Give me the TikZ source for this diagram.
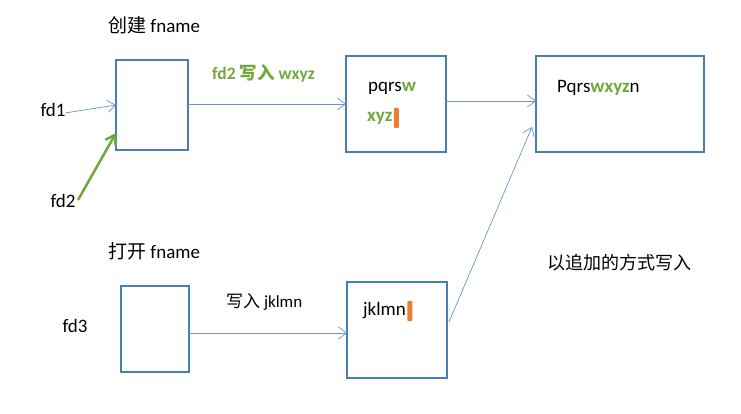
\documentclass[tikz,border=0pt]{standalone}
\usepackage{fontspec}
\setmainfont{Carlito}
\newfontfamily\cjk{Noto Sans CJK SC}
\usetikzlibrary{arrows.meta}
\definecolor{bbox}{RGB}{74,126,187}
\definecolor{barr}{RGB}{100,150,205}
\definecolor{gr}{RGB}{112,168,60}
\definecolor{org}{RGB}{237,125,49}
\tikzset{
 box/.style={draw=bbox,line width=1.6pt},
 conn/.style={draw=barr,line width=0.7pt,-{Straight Barb[length=8pt,width=12pt]}},
 txt/.style={font=\fontsize{19}{22}\selectfont,inner sep=0pt},
 cur/.style={fill=org,rounded corners=0.8pt,minimum width=5pt,minimum height=20pt,inner sep=0pt,anchor=west}
}
\begin{document}
\begin{tikzpicture}[x=1pt,y=-1pt]
\useasboundingbox (0,0) rectangle (741,414);
\draw[box] (116,60) rectangle (188,150);
\draw[box] (346,56) rectangle (446,152);
\draw[box] (536,56) rectangle (704,152);
\draw[box] (121,286) rectangle (189,372);
\draw[box] (347,282) rectangle (447,378);
\coordinate (a1) at (65,113); \coordinate (a1e) at (116,105);
\coordinate (g1) at (78,200); \coordinate (g1e) at (116,133);
\node[txt] (fd1) at (53,110) {fd1};
\node[txt] (fd2) at (63,201) {fd2};
\node[txt] (fd3) at (75,326) {fd3};
\draw[conn] (a1) -- (a1e);
\draw[draw=gr,line width=2.5pt,-{Straight Barb[length=9pt,width=12pt]}] (g1) -- (g1e);
\draw[conn] (188,104) -- (346,104);
\draw[conn] (446,101) -- (536,101);
\draw[conn] (449,322) -- (532,127);
\draw[conn] (189,333) -- (347,333);
\node[txt,anchor=west] (t1) at (108,25) {{\cjk 创建} fname};
\node[txt,anchor=west] (t2) at (108,251) {{\cjk 打开} fname};
\node[txt,anchor=west,text=gr,font=\fontsize{17.5}{20}\selectfont\bfseries] (t3) at (212,73) {fd2 {\cjk\bfseries 写入} wxyz};
\node[txt,anchor=west,font=\fontsize{17}{20}\selectfont] (t4) at (226,302) {{\cjk 写入} jklmn};
\node[txt,anchor=west,font=\fontsize{18}{21}\selectfont] (t5) at (547,263) {\cjk 以追加的方式写入};
\node[txt,anchor=west] (p1) at (368,88) {pqrs\textcolor{gr}{\bfseries w}};
\node[txt,anchor=west,text=gr,font=\fontsize{19}{22}\selectfont\bfseries] (p2) at (367,118) {xyz};
\node[cur] at ([xshift=1pt]p2.east) {};
\node[txt,anchor=west] (p3) at (557,88) {Pqrs\textcolor{gr}{\bfseries wxyz}n};
\node[txt,anchor=west] (p4) at (363,311) {jklmn};
\node[cur] at ([xshift=1pt]p4.east) {};
\end{tikzpicture}
\end{document}
